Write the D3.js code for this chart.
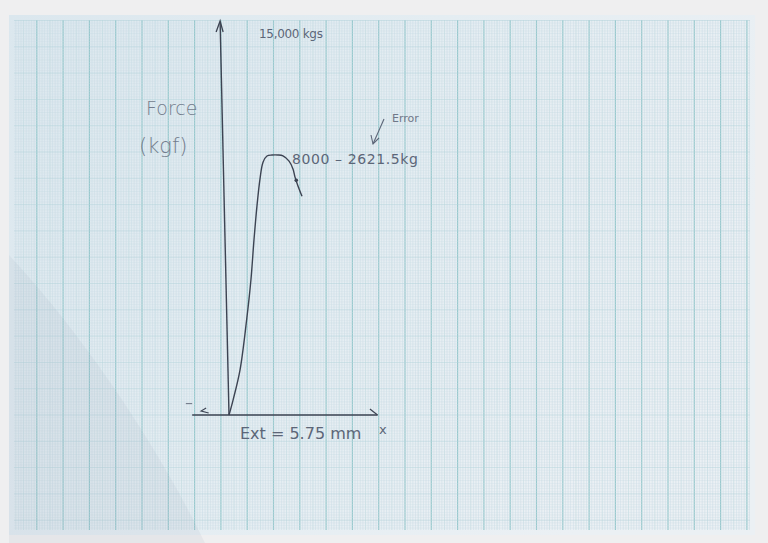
<!DOCTYPE html>
<html><head><meta charset="utf-8">
<script src="https://cdn.jsdelivr.net/npm/d3@7"></script>
<style>html,body{margin:0;padding:0;background:#ececee;}svg{display:block;}</style>
</head><body>
<script>
// Data
const extension = [0, 0.32, 0.87, 1.39, 1.73, 1.97, 2.2, 2.44, 2.68, 2.99, 3.39, 3.86, 4.25, 4.73, 5.04, 5.2, 5.44, 5.75];
const force     = [0, 460, 1390, 2930, 4170, 5400, 6420, 7260, 7780, 7970, 8000, 8000, 7970, 7810, 7570, 7320, 7040, 6730];
const peakLabel = "8000 \u2013 2621.5kg";
const topLabel = "15,000 kgs";
const yTitle = ["Force", "(kgf)"];
const xTitle = "Ext = 5.75 mm";
const errorLabel = "Error";

const W = 768, H = 543;
const svg = d3.select("body").append("svg").attr("width", W).attr("height", H);

// paper
const defs = svg.append("defs");
const g1 = defs.append("linearGradient").attr("id","paperG").attr("x1","0").attr("y1","0").attr("x2","1").attr("y2","0.4");
g1.append("stop").attr("offset","0").attr("stop-color","#dbe7ee");
g1.append("stop").attr("offset","0.5").attr("stop-color","#e4edf2");
g1.append("stop").attr("offset","1").attr("stop-color","#ebf0f4");
svg.append("rect").attr("x",0).attr("y",0).attr("width",W).attr("height",H).attr("fill","#efeff0");
svg.append("rect").attr("x",9).attr("y",15).attr("width",746).attr("height",520).attr("fill","url(#paperG)");

// graph paper grid
const gx0 = 14, gx1 = 750, gy0 = 20, gy1 = 530;
const step = 26.3, minor = step/10, ox = 405 - step*15, oy = 415 - step*15;
const grid = svg.append("g");
d3.range(0, 300).forEach(i => {
  const x = ox + i*minor;
  if (x < gx0 || x > gx1) return;
  const major = i % 10 === 0, mid = i % 5 === 0;
  grid.append("line").attr("x1",x).attr("x2",x).attr("y1",gy0).attr("y2",gy1)
    .attr("stroke", major ? "#8cc3c8" : (mid ? "#b0d2d9" : "#c6dae4"))
    .attr("stroke-width", major ? 1.2 : 0.6).attr("opacity", major ? 0.85 : 0.75);
});
d3.range(0, 220).forEach(i => {
  const y = oy + i*minor;
  if (y < gy0 || y > gy1) return;
  const major = i % 10 === 0, mid = i % 5 === 0;
  grid.append("line").attr("y1",y).attr("y2",y).attr("x1",gx0).attr("x2",gx1)
    .attr("stroke", major ? "#b6d4dc" : (mid ? "#c4dae2" : "#cfdfe7"))
    .attr("stroke-width", major ? 0.8 : 0.5).attr("opacity", 0.7);
});

// shadow in lower-left
svg.append("path").attr("d","M9,255 C70,320 150,430 205,543 L9,543 Z").attr("fill","#8a93a8").attr("opacity",0.09);

// scales
const x = d3.scaleLinear().domain([0, 5.75]).range([229, 302]);
const y = d3.scaleLinear().domain([0, 8000]).range([415, 155]);

const ink = "#3c4352";
// y axis (hand drawn, slightly tilted)
svg.append("line").attr("x1", x(0)).attr("y1", y(0)).attr("x2", x(-0.7)).attr("y2", 22)
  .attr("stroke", ink).attr("stroke-width", 1.4);
svg.append("path").attr("d", `M${x(-0.7)-4},32 L${x(-0.7)},21 L${x(-0.7)+3},32`)
  .attr("fill","none").attr("stroke", ink).attr("stroke-width", 1.3);

// x axis
svg.append("line").attr("x1", x(-2.9)).attr("y1", y(0)).attr("x2", x(11.7)).attr("y2", y(0))
  .attr("stroke", ink).attr("stroke-width", 1.3);
svg.append("path").attr("d", `M${x(11.1)},${y(0)-6} L${x(11.7)},${y(0)} `)
  .attr("fill","none").attr("stroke", ink).attr("stroke-width", 1.2);
svg.append("path").attr("d", `M${x(-1.8)},${y(0)-7} L${x(-2.2)},${y(0)-4} L${x(-1.6)},${y(0)-2}`)
  .attr("fill","none").attr("stroke", ink).attr("stroke-width", 1.1);
svg.append("line").attr("x1", x(-3.4)).attr("x2", x(-2.9)).attr("y1", y(350)).attr("y2", y(350))
  .attr("stroke", "#6a7080").attr("stroke-width", 1);

// curve
const pts = extension.map((e, i) => [x(e), y(force[i])]);
svg.append("path").datum(pts)
  .attr("d", d3.line().curve(d3.curveCatmullRom.alpha(0.5)))
  .attr("fill","none").attr("stroke", ink).attr("stroke-width", 1.4);
svg.append("circle").attr("cx", x(5.3)).attr("cy", y(7220)).attr("r", 1.8).attr("fill", ink);

// texts
const pencil = "#5c6678";
const font = "DejaVu Sans";
svg.append("text").attr("x", 259).attr("y", 38).text(topLabel)
  .attr("font-family", font).attr("font-size", 12).attr("fill", pencil).attr("letter-spacing", -0.3);
svg.append("text").attr("x", 146).attr("y", 115).text(yTitle[0])
  .attr("font-family", font).attr("font-size", 19).attr("font-weight", 200).attr("fill", "#737c8c");
svg.append("text").attr("x", 139).attr("y", 153).text(yTitle[1])
  .attr("font-family", font).attr("font-size", 21).attr("font-weight", 200).attr("fill", "#737c8c");
svg.append("text").attr("x", 392).attr("y", 122).text(errorLabel)
  .attr("font-family", font).attr("font-size", 11).attr("fill", "#6f7888");
svg.append("text").attr("x", 292).attr("y", 164).text(peakLabel)
  .attr("font-family", font).attr("font-size", 14).attr("fill", pencil).attr("letter-spacing", 0.6);
svg.append("text").attr("x", 240).attr("y", 439).text(xTitle)
  .attr("font-family", font).attr("font-size", 16).attr("fill", pencil).attr("letter-spacing", 0);
svg.append("text").attr("x", 379).attr("y", 434).text("x")
  .attr("font-family", font).attr("font-size", 13).attr("fill", pencil);

// error arrow
svg.append("path").attr("d","M384,119 L373,144").attr("stroke", pencil).attr("stroke-width",1.1).attr("fill","none");
svg.append("path").attr("d","M371,135 L373,144 L379,138").attr("stroke", pencil).attr("stroke-width",1.1).attr("fill","none");
</script>
</body></html>
